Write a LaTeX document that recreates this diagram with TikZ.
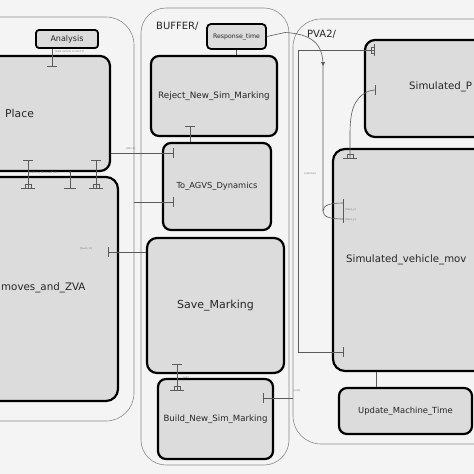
\documentclass[tikz,border=0pt]{standalone}
\usepackage{fontspec}
\setmainfont{DejaVu Sans}
\usetikzlibrary{calc}
\definecolor{bg}{HTML}{F4F4F4}
\definecolor{boxfill}{HTML}{DCDCDC}
\definecolor{ln}{HTML}{5A5A5A}
\definecolor{cont}{HTML}{8A8A8A}
\tikzset{
  cbox/.style={draw=cont, line width=0.6pt, fill=bg, rectangle, inner sep=0pt},
  sbox/.style={draw=black, line width=2.2pt, fill=boxfill, rectangle, inner sep=0pt, text=black!85},
  conn/.style={draw=ln, line width=0.6pt},
  tinylbl/.style={font=\fontsize{2.6}{3}\selectfont, text=ln!80, inner sep=0pt},
  hbarpic/.pic={\draw[conn] (-5,0)--(5,0);},
  vbarpic/.pic={\draw[conn] (0,-5)--(0,5);},
  dockpic/.pic={\draw[conn] (-7,0)--(7,0); \draw[conn] (-3,0)--(-3,-4)--(3,-4)--(3,0);},
  sidedockpic/.pic={\draw[conn] (0,-6)--(0,6); \draw[conn] (0,-3)--(-3,-3)--(-3,3)--(0,3);},
}
\begin{document}
\begin{tikzpicture}[x=1pt,y=-1pt]
\useasboundingbox (0,0) rectangle (474,474);
\fill[bg] (0,0) rectangle (474,474);
\begin{scope}
\clip (0,0) rectangle (474,474);
% containers
\node[cbox, rounded corners=28pt, minimum width=174pt, minimum height=404pt] (leftc) at (47,219) {};
\node[cbox, rounded corners=25pt, minimum width=148pt, minimum height=457pt] (bufc) at (215,236.5) {};
\node[cbox, rounded corners=28pt, minimum width=227pt, minimum height=425pt] (pvac) at (406.5,231.5) {};
\node[anchor=west, inner sep=0pt, font=\fontsize{10}{12}\selectfont, text=black!85] (buflbl) at (156,26) {BUFFER/};
\node[anchor=west, inner sep=0pt, font=\fontsize{10}{12}\selectfont, text=black!85] (pvalbl) at (307,34) {PVA2/};

% state boxes
\node[sbox, rounded corners=10pt, minimum width=130pt, minimum height=115pt] (place) at (45,113.5) {};
\node[anchor=west, inner sep=0pt, font=\fontsize{10.8}{13}\selectfont, text=black!85] (placet) at (5,113) {Place};
\node[sbox, rounded corners=12pt, minimum width=138pt, minimum height=224pt] (moves) at (49,289) {};
\node[anchor=west, inner sep=0pt, font=\fontsize{10.3}{13}\selectfont, text=black!85] (movest) at (1,288) {moves\_and\_ZVA};
\node[sbox, line width=1.8pt, rounded corners=3pt, minimum width=62pt, minimum height=18pt, font=\fontsize{8}{9}\selectfont] (analysis) at (67,39) {Analysis};
\node[sbox, line width=1.8pt, rounded corners=4pt, minimum width=59pt, minimum height=25pt, font=\fontsize{6.2}{7}\selectfont] (resp) at (236.5,36.5) {Response\_time};
\node[sbox, rounded corners=8pt, minimum width=126pt, minimum height=80pt, font=\fontsize{8.8}{10}\selectfont] (reject) at (214,96) {Reject\_New\_Sim\_Marking};
\node[sbox, rounded corners=8pt, minimum width=108pt, minimum height=87pt, font=\fontsize{8.3}{10}\selectfont] (agvs) at (217,186.5) {To\_AGVS\_Dynamics};
\node[sbox, rounded corners=10pt, minimum width=137pt, minimum height=135pt, font=\fontsize{11}{13}\selectfont] (save) at (215.5,305.5) {Save\_Marking};
\node[sbox, rounded corners=8pt, minimum width=115pt, minimum height=80pt, font=\fontsize{8.6}{10}\selectfont] (build) at (215.5,419) {Build\_New\_Sim\_Marking};
\node[sbox, rounded corners=10pt, minimum width=145pt, minimum height=97pt] (simp) at (437.5,88.5) {};
\node[anchor=west, inner sep=0pt, font=\fontsize{10.2}{12}\selectfont, text=black!85] (simpt) at (409,87) {Simulated\_P};
\node[sbox, rounded corners=12pt, minimum width=177pt, minimum height=222pt] (simv) at (421.5,260) {};
\node[anchor=west, inner sep=0pt, font=\fontsize{10.2}{13}\selectfont, text=black!85] (simvt) at (346,260) {Simulated\_vehicle\_mov};
\node[sbox, rounded corners=8pt, minimum width=133pt, minimum height=46pt, font=\fontsize{8.4}{10}\selectfont] (update) at (405.5,411) {Update\_Machine\_Time};

% connectors
% Analysis -> Place
\coordinate (aEnd) at (52,66);
\draw[conn] (analysis.south -| aEnd) -- (aEnd);
\pic at (aEnd) {hbarpic};
\node[tinylbl, anchor=west] (albl) at (55,52) {[Add vehicle to Grid ?]};

% Place <-> moves
\foreach \xx/\nm in {28/ta,96/tb}{
  \coordinate (\nm top) at (\xx,160);
  \coordinate (\nm bot) at (\xx,188);
  \draw[conn] (\nm top) -- (\nm bot);
  \pic at (\nm top) {hbarpic};
  \pic at (\nm bot) {dockpic};
}
\coordinate (tctop) at (70,172);
\coordinate (tcbot) at (70,188);
\draw[conn] (tctop) -- (tcbot);
\fill[ln] (tctop) circle (0.9pt);
\draw[conn] (64,188) -- (76,188);
\node[tinylbl, anchor=west] (pmlbl) at (29,173) {[vehicle\_removed\_ok]};

% Place -> To_AGVS
\coordinate (agA) at (173,153);
\draw[conn] (place.east |- agA) -- (agA);
\pic at (agA) {vbarpic};
\node[tinylbl] (l1) at (131,149) {[ID=d]};
\coordinate (agB) at (173,202);
\draw[conn] (leftc.east |- agB) -- (agB);
\pic at (agB) {vbarpic};

% moves -> Save
\coordinate (mvS) at (108,252);
\draw[conn] (mvS) -- (save.west |- mvS);
\pic at (mvS) {vbarpic};
\node[tinylbl] (l2) at (86,249) {[mark\_in]};

% Response -> Reject
\draw[conn] (resp.south) -- (reject.north -| resp.south);
% Reject -> AGVS
\coordinate (rjB) at (190,126);
\draw[conn] (rjB) -- (agvs.north -| rjB);
\pic at (rjB) {hbarpic};

% Save -> Build
\coordinate (svA) at (177,364);
\coordinate (svB) at (177,390);
\draw[conn] (svA) -- (svB);
\pic at (svA) {hbarpic};
\pic at (svB) {dockpic};
\node[tinylbl] (l3) at (186,378) {[ok]};

% Build -> PVA2 edge
\coordinate (bdA) at (263,398);
\draw[conn] (bdA) -- (pvac.west |- bdA);
\pic at (bdA) {vbarpic};
\node[tinylbl] (l4) at (297,391) {[sim]};

% left loop line in PVA2
\coordinate (lpTop) at (374,50);
\coordinate (lpC1) at (298,50);
\coordinate (lpC2) at (298,352);
\coordinate (lpEnd) at (343,352);
\draw[conn] (lpTop) -- (lpC1) -- (lpC2) -- (lpEnd);
\pic at (lpTop) {sidedockpic};
\pic at (lpEnd) {vbarpic};
\node[tinylbl] (l5) at (310,174) {[vehicle]};

% Response_time -> fork on Simulated_vehicle
\coordinate (rsC) at (323,65);
\coordinate (fk) at (323,211);
\coordinate (fkU) at (343,203);
\coordinate (fkL) at (343,219);
\draw[conn] (resp.east) -- (285,32.5) .. controls (318,34) and (323,50) .. (rsC) -- (fk);
\fill[ln] (321,62) -- (325,62) -- (323,66) -- cycle;
\draw[conn] (fk) .. controls (323,205) and (330,203) .. (fkU);
\draw[conn] (fk) .. controls (323,217) and (330,219) .. (fkL);
\draw[conn] (343,199) -- (343,223);
\node[tinylbl, anchor=west] (l6) at (345,210) {[dest\_x]};
\node[tinylbl, anchor=west] (l7) at (345,220) {[dest\_y]};

% Simulated_P -> Simulated_vehicle
\coordinate (spA) at (375,90);
\coordinate (svT) at (350,158);
\draw[conn] (spA) -- (369,91) .. controls (352,98) and (350,115) .. (350,135) -- (svT);
\pic at (spA) {vbarpic};
\pic at (svT) {dockpic};

% Simulated_vehicle -> Update
\draw[conn] (simv.south -| 376,0) -- (update.north -| 376,0);
\end{scope}
\end{tikzpicture}
\end{document}
